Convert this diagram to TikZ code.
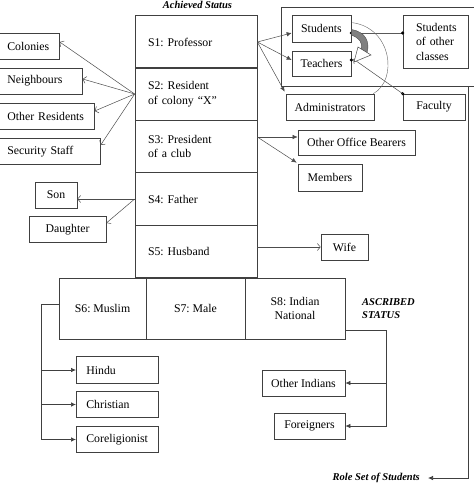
\documentclass[tikz,border=0pt]{standalone}
\usepackage{fontspec}
\setmainfont{Liberation Serif}
\usetikzlibrary{arrows.meta,calc}
\frenchspacing
\begin{document}
\begin{tikzpicture}[x=1pt,y=-1pt,
  ln/.style={draw=black!75, line width=0.7pt},
  arr/.style={draw=black!70, line width=0.5pt},
  ftip/.style={-{Latex[length=5pt,width=4.5pt]}},
  otip/.style={-{Straight Barb[length=3pt,width=7pt]}},
  box/.style={draw=black!75, line width=0.7pt, rectangle, inner sep=0pt, font=\fontsize{11.8}{14.5}\selectfont, align=center},
  cell/.style={box, minimum width=122pt, minimum height=52.4pt, align=left, text width=96pt, inner xsep=13pt},
  lbox/.style={box, align=left, inner xsep=10pt, anchor=west, minimum height=26pt},
  rbox/.style={box, align=left, inner xsep=10pt, anchor=west, minimum height=26.5pt, text width=62pt},
  bold/.style={font=\fontsize{10.5}{13}\selectfont\bfseries\itshape, inner sep=0pt}]
\useasboundingbox (0,0) rectangle (474,485);

% main column
\node[cell] (s1) at (196,42) {S1: Professor};
\node[cell] (s2) at (196,94) {S2: Resident\\of colony ``X''};
\node[cell] (s3) at (196,146.5) {S3: President\\of a club};
\node[cell] (s4) at (196,199) {S4: Father};
\node[cell] (s5) at (196,251.5) {S5: Husband};
\node[box, minimum width=87pt, minimum height=61pt] (s6) at (102.5,308.5) {S6: Muslim};
\node[box, minimum width=99pt, minimum height=61pt] (s7) at (195.5,308.5) {S7: Male};
\node[box, minimum width=100pt, minimum height=61pt] (s8) at (295,308.5) {S8: Indian\\National};

\node[bold] (ach) at (197.5,5) {Achieved Status};
\node[bold, anchor=west, align=left] (asc) at (362,308.5) {ASCRIBED\\STATUS};

% left boxes (left edges lie outside the picture)
\node[lbox, text width=42pt] (col) at (-3,46) {Colonies};
\node[lbox, text width=65pt] (nei) at (-3,81) {Neighbours};
\node[lbox, text width=77pt] (oth) at (-3,116) {Other Residents};
\node[lbox, text width=83pt] (sec) at (-3,151.5) {Security Staff};
\node[box, minimum width=42pt, minimum height=26pt] (son) at (56,195) {Son};
\node[box, minimum width=77pt, minimum height=25.5pt] (dau) at (67.5,229.5) {Daughter};

% right boxes
\node[box, minimum width=59pt, minimum height=27pt] (stu) at (321.5,28.5) {Students};
\node[box, minimum width=59pt, minimum height=25pt] (tea) at (321.5,63.5) {Teachers};
\node[box, align=left, text width=39pt, inner xsep=13pt, minimum height=53pt] (soc) at (435.5,41.5) {Students\\of other\\classes};
\node[box, minimum width=88pt, minimum height=26pt] (adm) at (330,107) {Administrators};
\node[box, minimum width=62pt, minimum height=26pt] (fac) at (434,107) {Faculty};
\node[box, minimum width=117pt, minimum height=25pt] (oob) at (356.5,142.5) {Other Office Bearers};
\node[box, minimum width=64pt, minimum height=27pt] (mem) at (330,177.5) {Members};
\node[box, minimum width=47pt, minimum height=26pt] (wif) at (344.5,247) {Wife};

% bottom boxes
\node[rbox] (hin) at (76,370) {Hindu};
\node[rbox] (chr) at (76,404.5) {Christian};
\node[rbox] (cor) at (76,439.5) {Coreligionist};
\node[box, minimum width=83pt, minimum height=26pt] (oin) at (303.5,383) {Other Indians};
\node[box, minimum width=71pt, minimum height=26pt] (for) at (309.5,426) {Foreigners};

\node[bold, anchor=east] (rs) at (420,478) {Role Set of Students};

% role set frame
\coordinate (f1) at (476,7);
\coordinate (f2) at (281,7);
\coordinate (f3) at (281,86);
\coordinate (f4) at (476,86);
\coordinate (f5) at (468,86);
\coordinate (f6) at (468,478);
\draw[ln] (f1) -- (f2) -- (f3) -- (f4);
\draw[ln, ftip] (f5) -- (f6) -- ([xshift=8pt]rs.east);

% S1 arrows
\draw[arr, ftip] (s1.east) -- ([yshift=-4.5pt]stu.west);
\draw[arr, ftip] (s1.east) -- ([yshift=3.5pt]tea.west);
\draw[arr, ftip] (s1.east) -- ([xshift=-1pt,yshift=2pt]adm.north west);

% dots and links
\coordinate (sd) at ([yshift=-4.5pt]stu.east);
\coordinate (td) at ([yshift=3.5pt]tea.east);
\draw[draw=black!65, line width=1pt] (sd) -- (sd -| soc.west);
\fill (sd) circle (1.7pt);
\fill (sd -| soc.west) circle (1.7pt);
\fill (td) circle (1.7pt);
\fill (fac.north west) circle (1.7pt);
\draw[arr, otip] (fac.north west) -- ([xshift=2pt,yshift=1pt]td);

% gray curved arrow
\filldraw[fill=black!50, draw=black!70, line width=0.4pt]
  ([yshift=3.5pt]sd) .. controls (366,32) and (370,42) .. (367,53)
  -- (361,49) .. controls (363,42) and (359,38) .. ([yshift=-2pt]sd) -- cycle;
\filldraw[fill=white, draw=black!70, line width=0.5pt]
  (358,47) -- (371,55) -- (354,62) -- cycle;
% thin arc
\draw[draw=black!60, line width=0.4pt] ([xshift=1pt,yshift=-8pt]stu.north east) .. controls (392,28) and (398,80) .. ([xshift=-1pt]adm.north east);

% S2 arrows
\draw[arr, otip] (s2.west) -- ([yshift=4pt]col.east);
\draw[arr, otip] (s2.west) -- ([yshift=2pt]nei.east);
\draw[arr, otip] (s2.west) -- ([yshift=5pt]oth.east);
\draw[arr, otip] (s2.west) -- ([yshift=6.5pt]sec.east);

% S3 arrows
\coordinate (s3e) at ([yshift=9.5pt]s3.east);
\draw[arr, ftip] (s3e) -- (oob.west |- s3e);
\draw[arr, ftip] (s3e) -- ([xshift=-1pt,yshift=1pt]mem.north west);

% S4 arrows
\draw[arr, otip] (s4.west) -- (son.east |- s4.west);
\draw[arr, otip] (s4.west) -- ([yshift=6.5pt]dau.east);

% S5 arrow
\draw[arr, otip] (s5.east |- wif.west) -- (wif.west);

% ascribed brackets
\coordinate (bl) at (41,439.5);
\draw[ln, ftip] ([yshift=4.5pt]s6.west) -| (bl) -- (cor.west);
\draw[ln, ftip] (hin.west -| bl) -- (hin.west);
\draw[ln, ftip] (chr.west -| bl) -- (chr.west);
\coordinate (br) at (386,426);
\draw[ln, ftip] ([yshift=-21.5pt]s8.east) -| (br) -- (for.east);
\draw[ln, ftip] (oin.east -| br) -- (oin.east);
\end{tikzpicture}
\end{document}
